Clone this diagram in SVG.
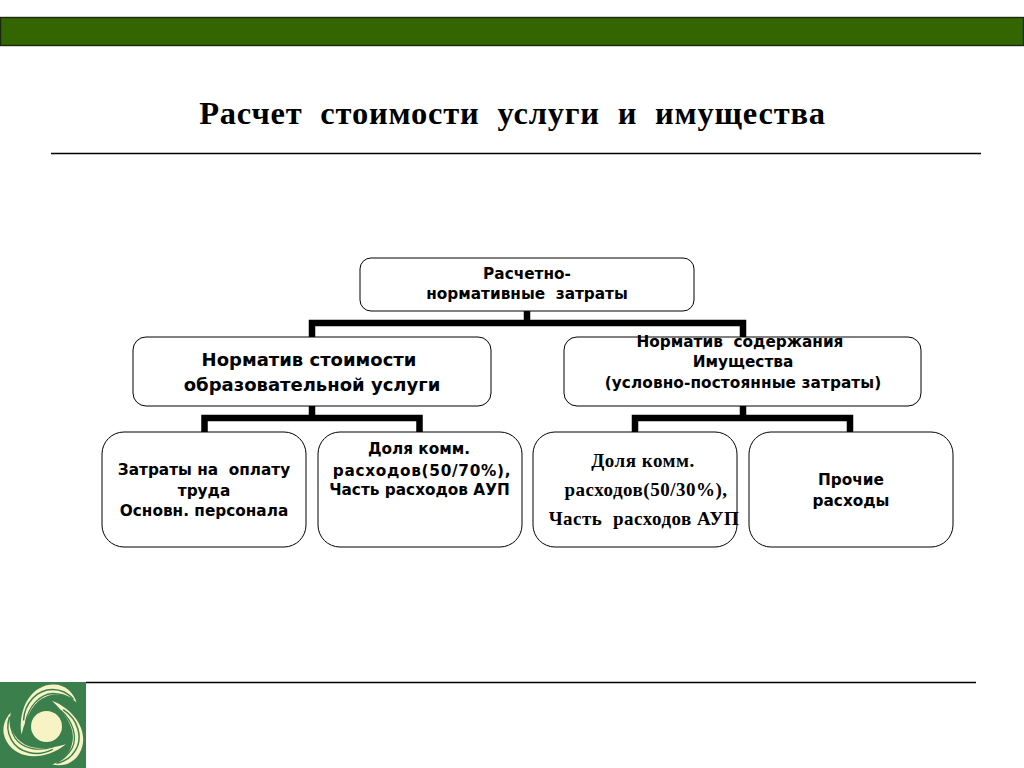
<svg xmlns="http://www.w3.org/2000/svg" width="1024" height="768" viewBox="0 0 1024 768">
<style>
.box{fill:#fff;stroke:#000;stroke-width:1}
.s{font-family:"DejaVu Sans","Liberation Sans",sans-serif;font-weight:700;text-anchor:middle;fill:#000;font-size:15.3px}
.m{font-size:18px}
.t{font-family:"Liberation Serif",serif;font-weight:700;text-anchor:middle;fill:#000}
.f{font-size:19px;letter-spacing:.5px}
.c{fill:none;stroke:#000;stroke-width:6.500}
.rule{stroke:#000;stroke-width:1.3}
</style>
<defs>
<clipPath id="lc"><rect x="0" y="682" width="86" height="86"/></clipPath>
<g id="sw">
<path d="M-25 8C-29 -18 -15 -42 7 -42C19 -42 27 -34 30 -24C21 -32 10 -34 0 -30C-12 -26 -20 -12 -25 8Z" fill="#f8f3c4"/>
<path d="M-23 -6C-22 -24 -9 -37 6 -37C15 -37 22 -33 27 -27" fill="none" stroke="#3a7f4c" stroke-width="1.5"/>
<path d="M-21 -4C-18 -20 -7 -32 6 -33C14 -33 20 -31 26 -27" fill="none" stroke="#3a7f4c" stroke-width="1.3"/>
</g>
</defs>
<rect width="1024" height="768" fill="#fff"/>
<rect x="0.5" y="17.5" width="1023" height="28" fill="#336600" stroke="#1a2a10" stroke-width="1.4"/>
<text x="512.500" y="124" class="t" font-size="32.500" letter-spacing="0.8" xml:space="preserve">Расчет  стоимости  услуги  и  имущества</text>
<line x1="51" y1="153.500" x2="981" y2="153.500" class="rule"/>
<line x1="86" y1="682.500" x2="976" y2="682.500" class="rule"/>
<g id="logo">
<rect x="0" y="682" width="86" height="86" fill="#3a7f4c"/>
<g clip-path="url(#lc)">
<circle cx="46.500" cy="726.500" r="15.500" fill="#f8f3c4"/>
<g transform="translate(46.500 726.500)">
<use href="#sw"/>
<use href="#sw" transform="rotate(120)"/>
<use href="#sw" transform="rotate(240)"/>
</g>
</g>
</g>
<g id="connectors">
<path class="c" d="M527 311V323M312 337V323H743V337"/>
<path class="c" d="M312 406V418M204.500 432V418H419.500V432"/>
<path class="c" d="M743 406V418M635 432V418H850V432"/>
</g>
<g id="n-root">
<rect class="box" x="360" y="258" width="334" height="53" rx="11"/>
<text class="s" x="527" y="279">Расчетно-</text>
<text class="s" x="527" y="299" xml:space="preserve">нормативные  затраты</text>
</g>
<g id="n-service">
<rect class="box" x="133" y="337" width="358" height="69" rx="13"/>
<text class="s m" x="309" y="366">Норматив стоимости</text>
<text class="s m" x="312" y="391">образовательной услуги</text>
</g>
<g id="n-property">
<rect class="box" x="564" y="337" width="357" height="69" rx="13"/>
<text class="s" x="740" y="347" xml:space="preserve">Норматив  содержания</text>
<text class="s" x="743" y="367">Имущества</text>
<text class="s" x="743" y="388" letter-spacing="0.1">(условно-постоянные затраты)</text>
</g>
<g id="n-labor">
<rect class="box" x="102" y="432" width="204" height="115" rx="22"/>
<text class="s" x="204" y="475" xml:space="preserve">Затраты на  оплату</text>
<text class="s" x="204" y="496">труда</text>
<text class="s" x="204" y="516">Основн. персонала</text>
</g>
<g id="n-share70">
<rect class="box" x="318" y="432" width="204" height="115" rx="22"/>
<text class="s" x="419" y="454">Доля комм.</text>
<text class="s" x="422" y="476" letter-spacing="0.7">расходов(50/70%),</text>
<text class="s" x="419.500" y="495">Часть расходов АУП</text>
</g>
<g id="n-share30">
<rect class="box" x="533" y="432" width="204" height="115" rx="22"/>
<text class="t f" x="643" y="467">Доля комм.</text>
<text class="t f" x="646" y="496">расходов(50/30%),</text>
<text class="t f" x="644" y="525" xml:space="preserve">Часть  расходов АУП</text>
</g>
<g id="n-other">
<rect class="box" x="749" y="432" width="204" height="115" rx="22"/>
<text class="s" x="851" y="485">Прочие</text>
<text class="s" x="851" y="506">расходы</text>
</g>
</svg>
